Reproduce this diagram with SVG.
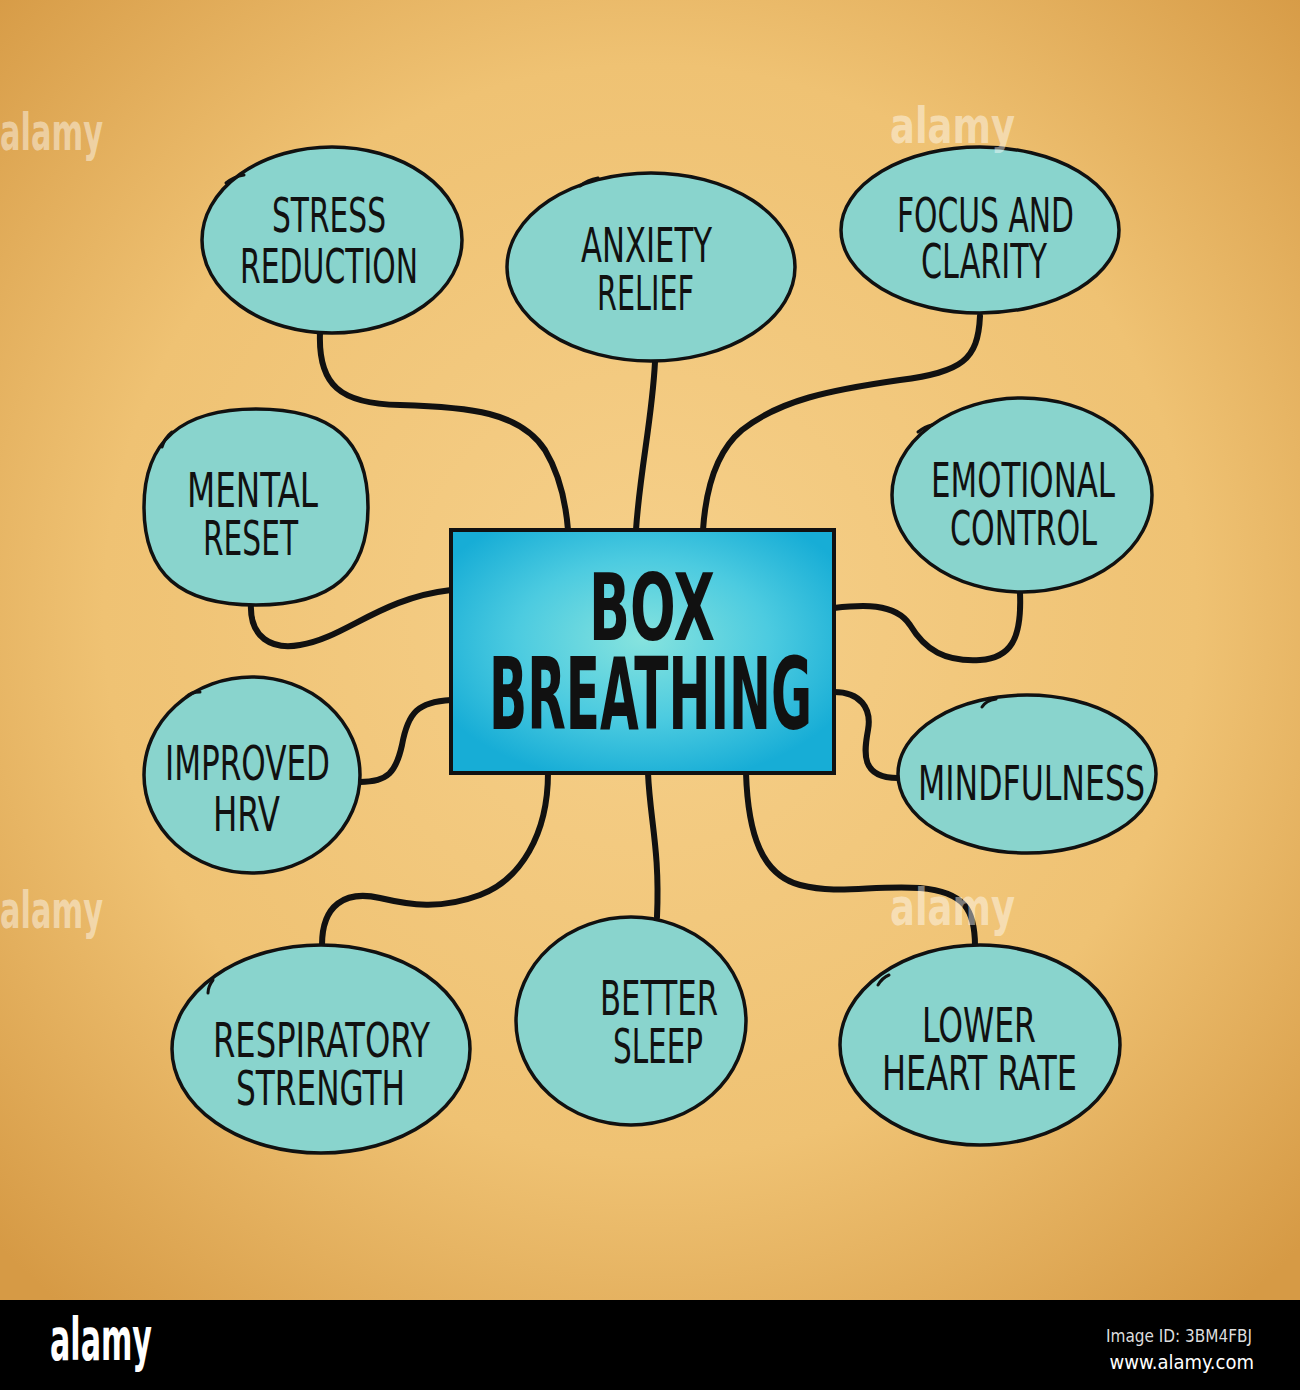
<svg xmlns="http://www.w3.org/2000/svg" width="1300" height="1390" viewBox="0 0 1300 1390">
<defs>
<radialGradient id="paper" cx="50%" cy="47%" r="70%">
<stop offset="0" stop-color="#f6d08a"/>
<stop offset="0.6" stop-color="#efc273"/>
<stop offset="1" stop-color="#d69a45"/>
</radialGradient>
<radialGradient id="boxfill" cx="50%" cy="45%" r="60%">
<stop offset="0" stop-color="#86e3de"/>
<stop offset="0.55" stop-color="#4ccbe0"/>
<stop offset="1" stop-color="#17add6"/>
</radialGradient>
<style>
.bubble{fill:#89d4cd;stroke:#111;stroke-width:3.5}
.hook{fill:none;stroke:#111;stroke-width:3;stroke-linecap:round}
.lbl{font-family:"DejaVu Sans Condensed","Liberation Sans Narrow","Liberation Sans",sans-serif;font-size:48px;fill:#111;text-anchor:start}
.big{font-family:"DejaVu Sans Condensed","Liberation Sans Narrow","Liberation Sans",sans-serif;fill:#111;font-weight:bold}
.conn{fill:none;stroke:#111;stroke-width:6;stroke-linecap:round}
.wm{font-family:"Liberation Sans Narrow","DejaVu Sans Condensed",sans-serif;font-weight:bold;fill:#ffffff;fill-opacity:0.45}
</style>
</defs>
<rect x="0" y="0" width="1300" height="1300" fill="url(#paper)"/>

<g id="connectors">
<path class="conn" d="M320,333 C318,385 340,404 400,405 C470,407 520,412 545,450 C560,475 566,505 568,530"/>
<path class="conn" d="M655,362 C652,420 640,470 636,530"/>
<path class="conn" d="M980,316 C978,360 962,372 900,380 C830,390 780,400 742,430 C712,455 705,500 703,530"/>
<path class="conn" d="M251,603 C249,638 272,650 300,645 C345,638 380,598 451,590"/>
<path class="conn" d="M834,608 C860,605 895,602 910,625 C925,650 945,662 980,660 C1010,658 1022,640 1020,593"/>
<path class="conn" d="M360,782 C388,782 396,772 402,745 C408,712 418,702 451,700"/>
<path class="conn" d="M834,692 C860,692 872,708 868,730 C864,752 860,778 898,778"/>
<path class="conn" d="M548,773 C548,835 520,880 480,895 C440,910 410,905 380,898 C345,890 322,905 322,945"/>
<path class="conn" d="M648,773 C650,820 660,850 657,917"/>
<path class="conn" d="M746,773 C748,835 762,875 800,885 C840,895 870,885 920,888 C965,892 975,910 975,946"/>
</g>

<g id="center">
<rect x="451" y="530" width="383" height="243" fill="url(#boxfill)" stroke="#111" stroke-width="4"/>
<text class="big"><tspan x="589" y="640" font-size="92" textLength="126" lengthAdjust="spacingAndGlyphs">BOX</tspan><tspan x="489" y="729" font-size="100" textLength="323" lengthAdjust="spacingAndGlyphs">BREATHING</tspan></text>
</g>

<g id="stress">
<ellipse class="bubble" cx="332" cy="240" rx="130" ry="93"/>
<path class="hook" d="M226,183 C232,178 238,176 244,175"/>
<text class="lbl"><tspan x="272" y="232" textLength="114" lengthAdjust="spacingAndGlyphs">STRESS</tspan><tspan x="240" y="283" textLength="178" lengthAdjust="spacingAndGlyphs">REDUCTION</tspan></text>
</g>

<g id="anxiety">
<ellipse class="bubble" cx="651" cy="267" rx="144" ry="94"/>
<path class="hook" d="M580,186 C586,181 592,179 598,178"/>
<text class="lbl"><tspan x="581" y="262" textLength="131" lengthAdjust="spacingAndGlyphs">ANXIETY</tspan><tspan x="597" y="310" textLength="97" lengthAdjust="spacingAndGlyphs">RELIEF</tspan></text>
</g>

<g id="focus">
<ellipse class="bubble" cx="980" cy="230" rx="139" ry="83"/>
<text class="lbl"><tspan x="897" y="232" textLength="177" lengthAdjust="spacingAndGlyphs">FOCUS AND</tspan><tspan x="921" y="278" textLength="126" lengthAdjust="spacingAndGlyphs">CLARITY</tspan></text>
</g>

<g id="mental">
<path class="bubble" d="M144,507 C144,440 182,409 256,409 C332,409 368,440 368,507 C368,574 332,605 256,605 C180,605 144,574 144,507 Z"/>
<path class="hook" d="M162,447 C164,440 167,436 172,432"/>
<text class="lbl"><tspan x="187" y="507" textLength="131" lengthAdjust="spacingAndGlyphs">MENTAL</tspan><tspan x="203" y="555" textLength="95" lengthAdjust="spacingAndGlyphs">RESET</tspan></text>
</g>

<g id="emotional">
<ellipse class="bubble" cx="1022" cy="495" rx="130" ry="97"/>
<path class="hook" d="M918,432 C923,428 927,426 932,425"/>
<text class="lbl"><tspan x="931" y="497" textLength="184" lengthAdjust="spacingAndGlyphs">EMOTIONAL</tspan><tspan x="950" y="545" textLength="147" lengthAdjust="spacingAndGlyphs">CONTROL</tspan></text>
</g>

<g id="hrv">
<ellipse class="bubble" cx="252" cy="775" rx="108" ry="98"/>
<path class="hook" d="M186,697 C190,693 194,692 200,692"/>
<text class="lbl"><tspan x="165" y="780" textLength="165" lengthAdjust="spacingAndGlyphs">IMPROVED</tspan><tspan x="213" y="831" textLength="67" lengthAdjust="spacingAndGlyphs">HRV</tspan></text>
</g>

<g id="mindfulness">
<ellipse class="bubble" cx="1027" cy="774" rx="129" ry="79"/>
<path class="hook" d="M982,707 C985,702 990,700 996,699"/>
<text class="lbl" x="918" y="800" textLength="227" lengthAdjust="spacingAndGlyphs">MINDFULNESS</text>
</g>

<g id="respiratory">
<ellipse class="bubble" cx="321" cy="1049" rx="149" ry="104"/>
<path class="hook" d="M213,980 C210,984 208,988 208,993"/>
<text class="lbl"><tspan x="213" y="1057" textLength="217" lengthAdjust="spacingAndGlyphs">RESPIRATORY</tspan><tspan x="236" y="1105" textLength="169" lengthAdjust="spacingAndGlyphs">STRENGTH</tspan></text>
</g>

<g id="sleep">
<ellipse class="bubble" cx="631" cy="1021" rx="115" ry="104"/>
<text class="lbl"><tspan x="600" y="1015" textLength="118" lengthAdjust="spacingAndGlyphs">BETTER</tspan><tspan x="613" y="1063" textLength="90" lengthAdjust="spacingAndGlyphs">SLEEP</tspan></text>
</g>

<g id="heartrate">
<ellipse class="bubble" cx="980" cy="1045" rx="140" ry="100"/>
<path class="hook" d="M878,985 C881,980 884,977 889,975"/>
<text class="lbl"><tspan x="922" y="1042" textLength="114" lengthAdjust="spacingAndGlyphs">LOWER</tspan><tspan x="882" y="1090" textLength="195" lengthAdjust="spacingAndGlyphs">HEART RATE</tspan></text>
</g>

<g id="watermarks">
<text class="wm" x="0" y="150" font-size="52" textLength="103" lengthAdjust="spacingAndGlyphs">alamy</text>
<text class="wm" x="890" y="143" font-size="50" textLength="125" lengthAdjust="spacingAndGlyphs">alamy</text>
<text class="wm" x="0" y="928" font-size="52" textLength="103" lengthAdjust="spacingAndGlyphs">alamy</text>
<text class="wm" x="890" y="925" font-size="52" textLength="125" lengthAdjust="spacingAndGlyphs">alamy</text>
</g>

<g id="footer">
<rect x="0" y="1300" width="1300" height="90" fill="#000"/>
<text x="50" y="1360" font-family="Liberation Sans Narrow,DejaVu Sans Condensed,sans-serif" font-weight="bold" font-size="58" fill="#fff" textLength="102" lengthAdjust="spacingAndGlyphs">alamy</text>
<text x="1252" y="1342" font-family="Liberation Sans Narrow,DejaVu Sans Condensed,sans-serif" font-size="17" fill="#ddd" text-anchor="end">Image ID: 3BM4FBJ</text>
<text x="1254" y="1369" font-family="Liberation Sans Narrow,DejaVu Sans Condensed,sans-serif" font-size="20" fill="#fff" text-anchor="end">www.alamy.com</text>
</g>
</svg>
